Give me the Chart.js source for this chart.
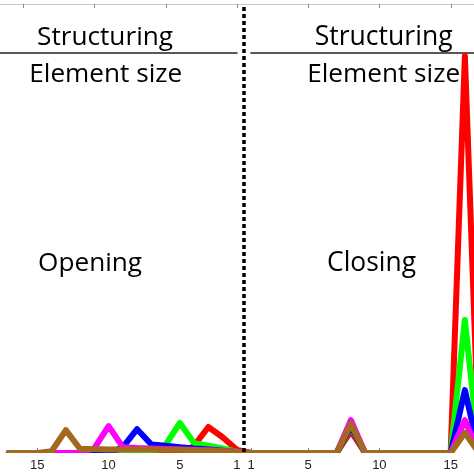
<!DOCTYPE html>
<html><head><meta charset="utf-8">
<script src="https://cdn.jsdelivr.net/npm/chart.js@4.4.0/dist/chart.umd.min.js"></script>
<style>html,body{margin:0;padding:0;background:#fff}#wrap{width:474px;height:474px}</style>
</head><body><div id="wrap"><canvas id="c"></canvas></div>
<script>
// Structuring element sizes (index 0 -> size 1)
const elementSizes = [1,2,3,4,5,6,7,8,9,10,11,12,13,14,15,16,17];
const bottomTickSizesLeft = [15,10,5,1];
const bottomTickSizesRight = [1,5,10,15];
const topTickSizesLeft = [16,11,6,1];
const topTickSizesRight = [5,10,15];

// Opening (left half), values for sizes 1..17
const openRed     = [0.7,3.5,5.8,1.6,0,0,0,0,0,0,0,0,0,0,0,0,0];
const openGreen   = [0.3,1.0,1.6,2.2,6.7,1.8,0,0,0,0,0,0,0,0,0,0,0];
const openBlue    = [0.2,0.5,0.8,1.0,1.3,1.6,1.9,5.3,1.3,0,0,0,0,0,0,0,0];
const openMagenta = [0.3,0.5,0.6,0.7,0.8,0.9,1.0,1.1,1.3,6.0,1.1,0,0,0,0,0,0];
const openBrown   = [0.2,0.4,0.5,0.6,0.7,0.7,0.8,0.8,0.8,0.8,0.9,0.9,5.1,0.4,0,0,0];

// Closing (right half), values for sizes 1..17
const closeRed     = [0,0,0,0,0,0,0,4.9,0,0,0,0,0,0,0,88.4,0];
const closeGreen   = [0,0,0,0,0,0,0,5.8,0,0,0,0,0,0,0,29.6,0];
const closeBlue    = [0,0,0,0,0,0,0,6.0,0,0,0,0,0,0,0,14.0,0];
const closeMagenta = [0,0,0,0,0,0,0,7.3,0,0,0,0,0,0,0,7.3,0];
const closeBrown   = [0,0,0,0,0,0,0,6.5,0,0,0,0,0,0,0,4.5,0];

const seriesColors = ['#ff0000','#00ff00','#0000ff','#ff00ff','#a3691f'];

// position on the mirrored axis: opening to the left of 0, closing to the right
const leftPos = k => -(k - 0.5);
const rightPos = k => (k - 0.5);

function buildPoints(openVals, closeVals) {
  const pts = [];
  for (let i = elementSizes.length - 1; i >= 0; i--) pts.push({x: leftPos(elementSizes[i]), y: openVals[i]});
  for (let i = 0; i < elementSizes.length; i++) pts.push({x: rightPos(elementSizes[i]), y: closeVals[i]});
  return pts;
}

const pairs = [[openRed,closeRed],[openGreen,closeGreen],[openBlue,closeBlue],[openMagenta,closeMagenta],[openBrown,closeBrown]];
const datasets = pairs.map((p, i) => ({
  data: buildPoints(p[0], p[1]),
  borderColor: seriesColors[i],
  backgroundColor: seriesColors[i],
  borderWidth: 6,
  pointRadius: 0,
  borderJoinStyle: 'round',
  borderCapStyle: 'round',
  tension: 0,
  order: pairs.length - i
}));

const bottomTicks = bottomTickSizesLeft.map(leftPos).concat(bottomTickSizesRight.map(rightPos));
const topTicks = topTickSizesLeft.map(leftPos).concat(topTickSizesRight.map(rightPos));

function fitText(ctx, text, cx, baseline, targetWidth) {
  ctx.font = '20px "Open Sans", Lato, sans-serif';
  const w = ctx.measureText(text).width;
  const size = 20 * targetWidth / w;
  ctx.font = size.toFixed(2) + 'px "Open Sans", Lato, sans-serif';
  ctx.fillText(text, cx, baseline);
}

const decor = {
  id: 'decor',
  beforeDatasetsDraw(chart) {
    const {ctx, chartArea: a, scales: {x}} = chart;
    ctx.save();
    // top frame line
    ctx.strokeStyle = '#c8c8c8'; ctx.lineWidth = 1;
    ctx.beginPath(); ctx.moveTo(a.left, a.top + 0.5); ctx.lineTo(a.right, a.top + 0.5); ctx.stroke();
    // top ticks
    ctx.strokeStyle = '#888';
    topTicks.forEach(v => { const px = Math.round(x.getPixelForValue(v)) + 0.5; ctx.beginPath(); ctx.moveTo(px, a.top); ctx.lineTo(px, a.top + 4); ctx.stroke(); });
    // bottom ticks
    bottomTicks.forEach(v => { const px = Math.round(x.getPixelForValue(v)) + 0.5; ctx.beginPath(); ctx.moveTo(px, a.bottom); ctx.lineTo(px, a.bottom - 5); ctx.stroke(); });
    // horizontal separator under "Structuring"
    ctx.strokeStyle = '#222'; ctx.lineWidth = 1.5;
    const y = 53;
    ctx.beginPath(); ctx.moveTo(a.left, y); ctx.lineTo(x.getPixelForValue(-0.45), y); ctx.stroke();
    ctx.beginPath(); ctx.moveTo(x.getPixelForValue(0.45), y); ctx.lineTo(a.right, y); ctx.stroke();
    // texts
    ctx.fillStyle = '#000';
    ctx.textAlign = 'center'; ctx.textBaseline = 'alphabetic';
    fitText(ctx, 'Structuring', x.getPixelForValue(-9.75), 45, 136);
    fitText(ctx, 'Element size', x.getPixelForValue(-9.7), 82, 153);
    fitText(ctx, 'Structuring', x.getPixelForValue(9.8), 45, 138);
    fitText(ctx, 'Element size', x.getPixelForValue(9.8), 82, 153);
    fitText(ctx, 'Opening', x.getPixelForValue(-10.8), 271, 104);
    fitText(ctx, 'Closing', x.getPixelForValue(8.95), 271, 89);
    ctx.restore();
  },
  afterDatasetsDraw(chart) {
    const {ctx, chartArea: a, scales: {x}} = chart;
    ctx.save();
    ctx.strokeStyle = '#000'; ctx.lineWidth = 3.5;
    ctx.setLineDash([4, 3]);
    const px = x.getPixelForValue(0);
    ctx.beginPath(); ctx.moveTo(px, a.top + 3); ctx.lineTo(px, a.bottom); ctx.stroke();
    ctx.restore();
  }
};

new Chart(document.getElementById('c'), {
  type: 'line',
  data: { datasets },
  plugins: [decor],
  options: {
    responsive: true, maintainAspectRatio: false, animation: false,
    layout: { padding: { top: 4, left: 0, right: 0, bottom: 0 } },
    plugins: { legend: { display: false }, tooltip: { enabled: false } },
    scales: {
      x: {
        type: 'linear', min: -17.12, max: 16.14,
        grid: { display: false, drawTicks: false },
        border: { display: false },
        afterBuildTicks: s => { s.ticks = bottomTicks.map(v => ({value: v})); },
        afterFit: s => { s.height = 21; },
        ticks: {
          autoSkip: false, maxRotation: 0, padding: 5,
          color: '#222', font: { family: 'Liberation Sans, Arial, sans-serif', size: 13 },
          callback: v => String(Math.round(Math.abs(v) + 0.5))
        }
      },
      y: { display: false, min: 0, max: 100 }
    }
  }
});
</script></body></html>
